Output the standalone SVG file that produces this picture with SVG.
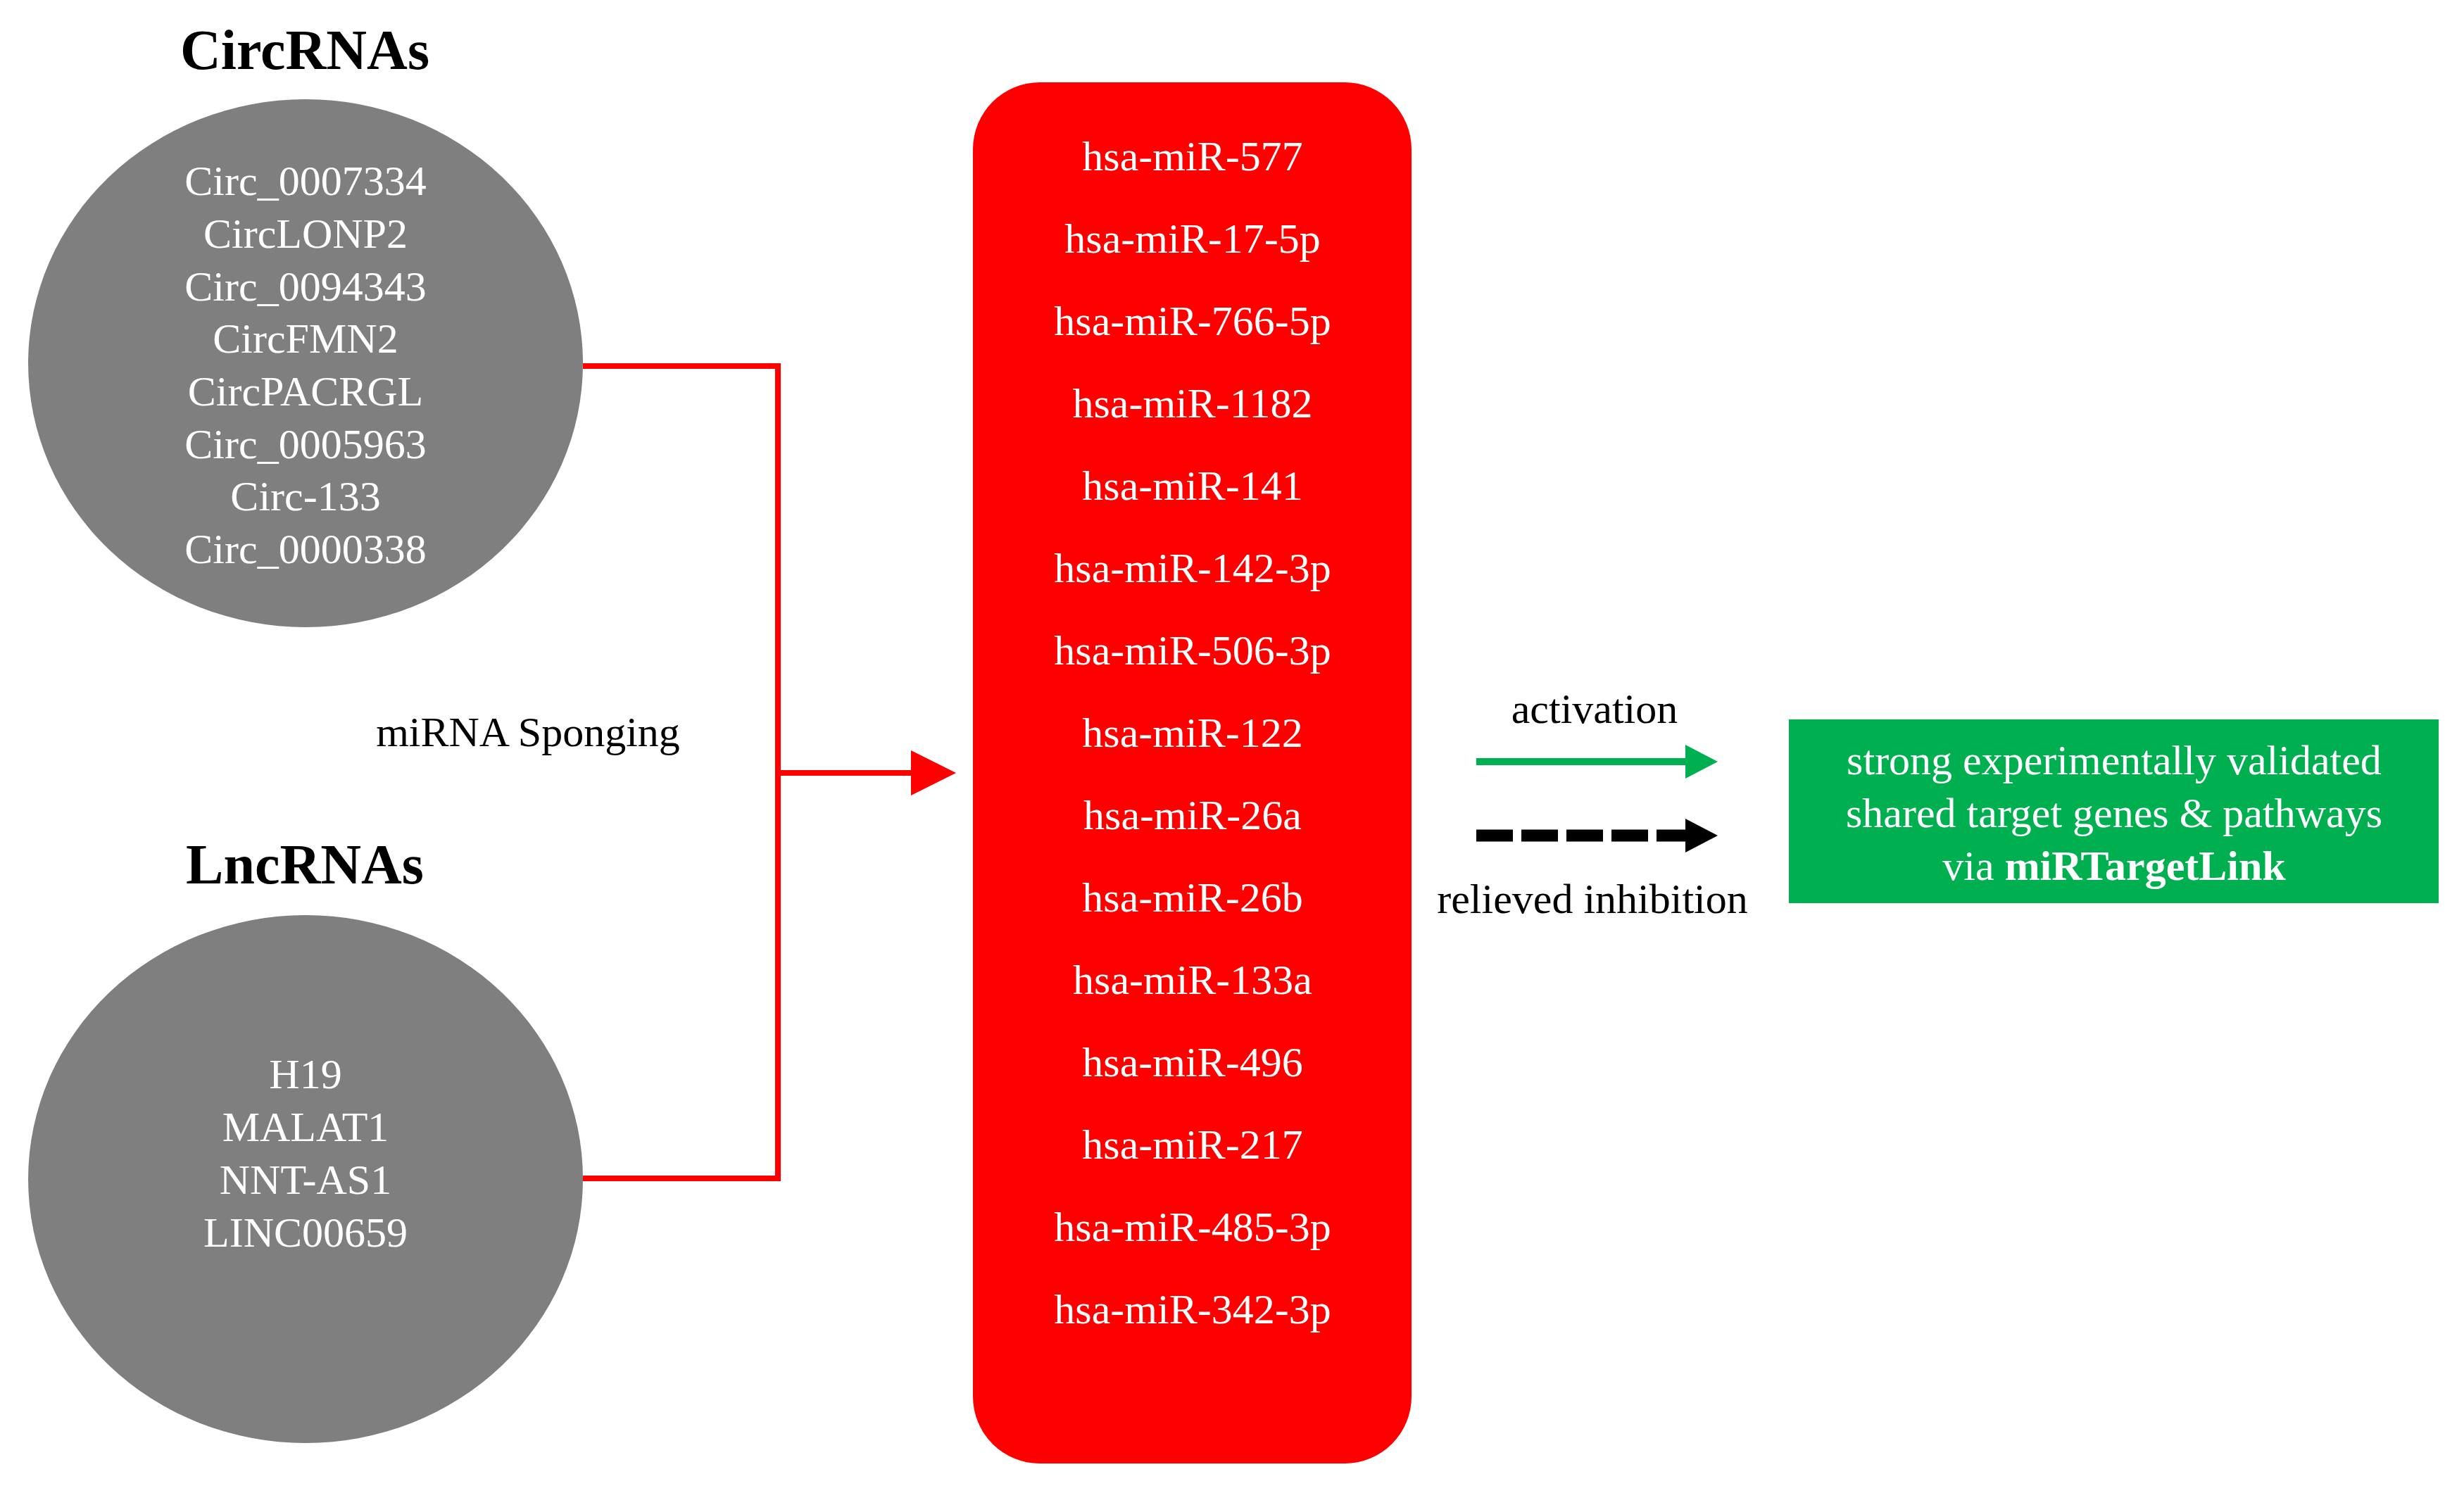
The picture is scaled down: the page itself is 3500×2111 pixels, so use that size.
<svg xmlns="http://www.w3.org/2000/svg" width="3500" height="2111" viewBox="0 0 3500 2111">
<style>
text{font-family:"Liberation Serif","Times New Roman",serif;text-anchor:middle}
.w{fill:#fff;font-size:60px}
.k{fill:#000;font-size:60px}
.t{fill:#000;font-size:80px;font-weight:bold}
.red{fill:none;stroke:#ff0000;stroke-width:8}
</style>
<defs>
<marker id="ar" markerWidth="8" markerHeight="8" refX="7" refY="4" orient="auto" markerUnits="strokeWidth"><path d="M0,0 L8,4 L0,8 z" fill="#ff0000"/></marker>
</defs>
<rect width="3500" height="2111" fill="#fff"/>
<g id="circ">
<text class="t" x="433" y="98">CircRNAs</text>
<ellipse cx="434" cy="516" rx="394" ry="375" fill="#7f7f7f"/>
<text class="w" x="434" y="277">Circ_0007334</text>
<text class="w" x="434" y="352">CircLONP2</text>
<text class="w" x="434" y="427">Circ_0094343</text>
<text class="w" x="434" y="501">CircFMN2</text>
<text class="w" x="434" y="576">CircPACRGL</text>
<text class="w" x="434" y="651">Circ_0005963</text>
<text class="w" x="434" y="725">Circ-133</text>
<text class="w" x="434" y="800">Circ_0000338</text>
</g>
<g id="lnc">
<text class="t" x="433" y="1255">LncRNAs</text>
<ellipse cx="434" cy="1675" rx="394" ry="375" fill="#7f7f7f"/>
<text class="w" x="434" y="1546">H19</text>
<text class="w" x="434" y="1621">MALAT1</text>
<text class="w" x="434" y="1696">NNT-AS1</text>
<text class="w" x="434" y="1771">LINC00659</text>
</g>
<g id="mirna">
<rect x="1382" y="117" width="623" height="1962" rx="95" fill="#ff0000"/>
<text class="w" x="1694" y="242">hsa-miR-577</text>
<text class="w" x="1694" y="359">hsa-miR-17-5p</text>
<text class="w" x="1694" y="476">hsa-miR-766-5p</text>
<text class="w" x="1694" y="593">hsa-miR-1182</text>
<text class="w" x="1694" y="710">hsa-miR-141</text>
<text class="w" x="1694" y="827">hsa-miR-142-3p</text>
<text class="w" x="1694" y="944">hsa-miR-506-3p</text>
<text class="w" x="1694" y="1061">hsa-miR-122</text>
<text class="w" x="1694" y="1178">hsa-miR-26a</text>
<text class="w" x="1694" y="1295">hsa-miR-26b</text>
<text class="w" x="1694" y="1412">hsa-miR-133a</text>
<text class="w" x="1694" y="1529">hsa-miR-496</text>
<text class="w" x="1694" y="1646">hsa-miR-217</text>
<text class="w" x="1694" y="1763">hsa-miR-485-3p</text>
<text class="w" x="1694" y="1880">hsa-miR-342-3p</text>
</g>
<g id="target">
<rect x="2541" y="1022" width="923" height="261" fill="#00b050"/>
<text class="w" x="3003" y="1100">strong experimentally validated</text>
<text class="w" x="3003" y="1175">shared target genes &amp; pathways</text>
<text class="w" x="3003" y="1250">via <tspan font-weight="bold">miRTargetLink</tspan></text>
</g>
<g id="legend">
<text class="k" x="2265" y="1027">activation</text>
<text class="k" x="2262" y="1297">relieved inhibition</text>
</g>
<g id="connectors">
<path class="red" d="M828,520 H1105 V1674 H828"/>
<path class="red" d="M1105,1098 H1350" marker-end="url(#ar)"/>
<text class="k" x="750" y="1060">miRNA Sponging</text>
<line x1="2097" y1="1082" x2="2400" y2="1082" stroke="#00b050" stroke-width="10"/>
<path d="M2394,1058 L2440,1082 L2394,1106 z" fill="#00b050"/>
<line x1="2097" y1="1187" x2="2400" y2="1187" stroke="#000" stroke-width="17" stroke-dasharray="52,12"/>
<path d="M2394,1163 L2440,1187 L2394,1211 z" fill="#000"/>
</g>
</svg>
